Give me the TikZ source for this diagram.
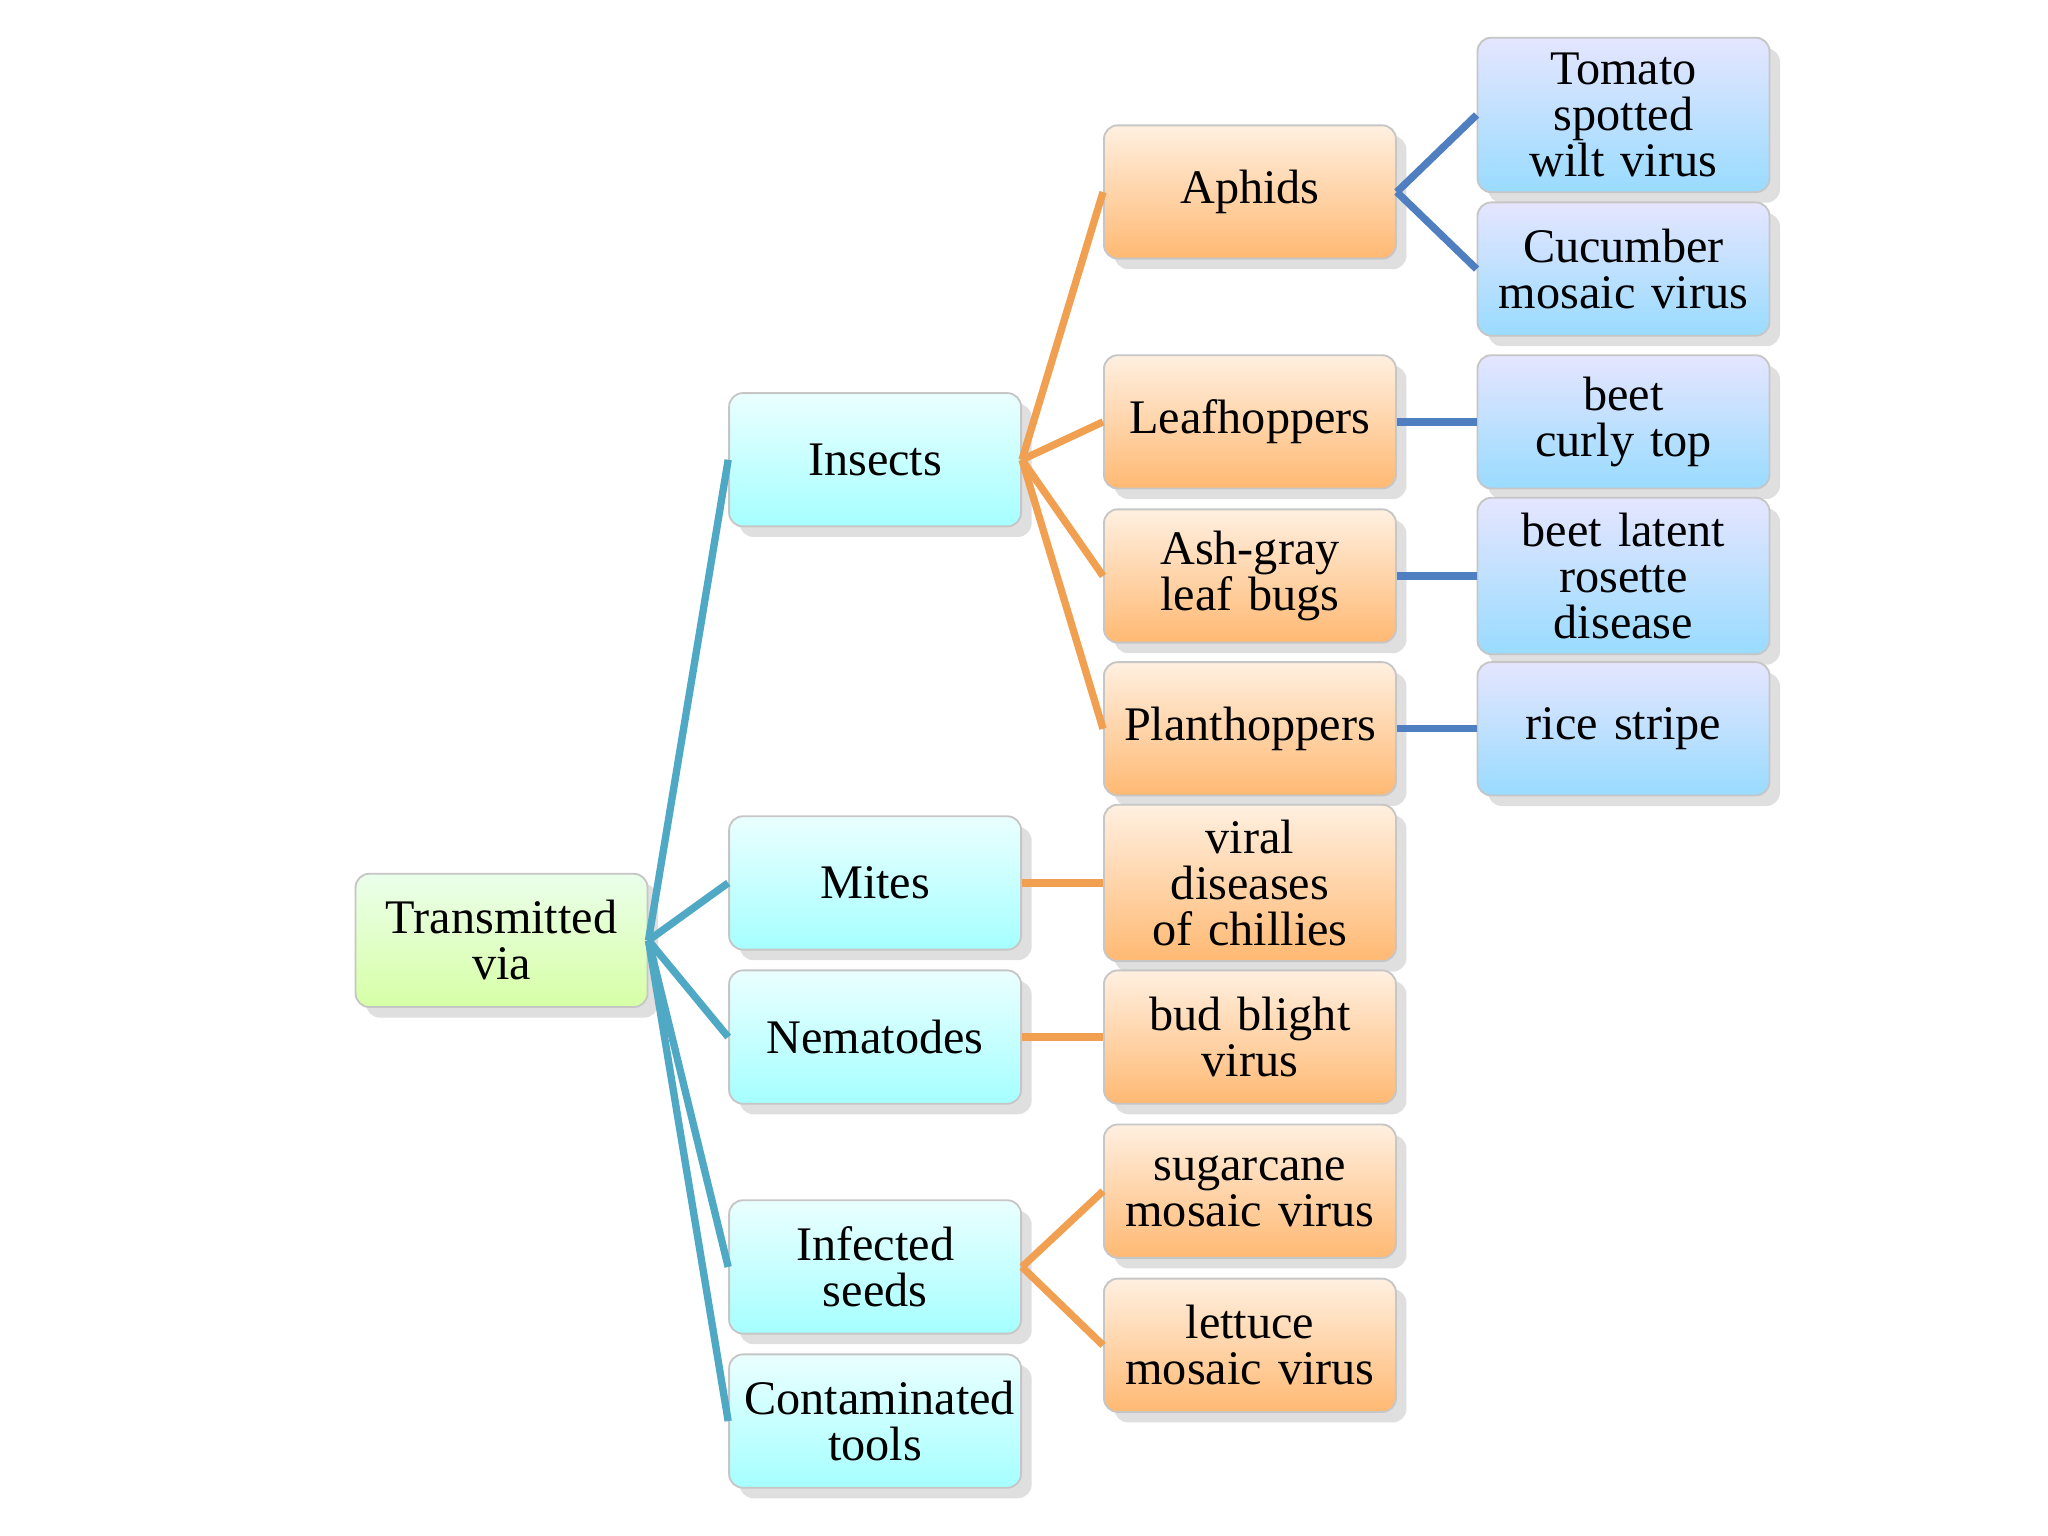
\documentclass[tikz,border=0pt]{standalone}
\usepackage{fontspec}
\setmainfont{Liberation Serif}
\usetikzlibrary{shadows}
\definecolor{tealline}{HTML}{4FA8C4}
\definecolor{orangeline}{HTML}{F0A050}
\definecolor{blueline}{HTML}{4F7FC0}
\tikzset{
  box/.style = {draw=gray!45, rounded corners=3pt, minimum width=2.05cm, minimum height=1.02cm,
    text width=2cm, align=center, font=\fontsize{10.5}{10}\selectfont, drop shadow={opacity=.25}},
  root/.style = {box, top color=green!8!white, bottom color=green!45!yellow!35},
  cat/.style = {box, top color=cyan!8!white, bottom color=cyan!35},
  sub/.style = {box, top color=orange!12!white, bottom color=orange!55},
  leaf/.style = {box, top color=blue!10!white, bottom color=blue!35!cyan!40},
  tl/.style = {tealline, line width=1.6pt},
  ol/.style = {orangeline, line width=1.6pt},
  bl/.style = {blueline, line width=1.6pt}
}
\begin{document}
\begin{tikzpicture}[x=0.01cm, y=-0.01cm]
\useasboundingbox (0,0) rectangle (1568,1176);
\fill[white] (0,0) rectangle (1568,1176);
\node[root] (tv) at (384,720) {Transmitted via};
\node[cat] (ins) at (670,352) {Insects};
\node[cat] (mit) at (670,676) {Mites};
\node[cat] (nem) at (670,794) {Nematodes};
\node[cat] (sds) at (670,970) {Infected seeds};
\node[cat] (tls) at (670,1088) {Contaminated tools};
\node[sub] (aph) at (957,147) {Aphids};
\node[sub] (lfh) at (957,323) {Leafhoppers};
\node[sub] (ash) at (957,441) {Ash-gray leaf bugs};
\node[sub] (plh) at (957,558) {Planthoppers};
\node[sub] (vdc) at (957,676) {viral diseases of chillies};
\node[sub] (bbv) at (957,794) {bud blight virus};
\node[sub] (smv) at (957,912) {sugarcane mosaic virus};
\node[sub] (lmv) at (957,1030) {lettuce mosaic virus};
\node[leaf] (tsw) at (1243,88) {Tomato spotted wilt virus};
\node[leaf] (cmv) at (1243,206) {Cucumber mosaic virus};
\node[leaf] (bct) at (1243,323) {beet curly top};
\node[leaf] (blr) at (1243,441) {beet latent rosette disease};
\node[leaf] (rst) at (1243,558) {rice stripe};
% first level
\foreach \c in {ins,mit,nem,sds,tls}
  \draw[tl] (tv.east) -- (\c.west);
% insects
\foreach \c in {aph,lfh,ash,plh}
  \draw[ol] (ins.east) -- (\c.west);
\draw[ol] (mit.east) -- (vdc.west);
\draw[ol] (nem.east) -- (bbv.west);
\draw[ol] (sds.east) -- (smv.west);
\draw[ol] (sds.east) -- (lmv.west);
% viruses
\draw[bl] (aph.east) -- (tsw.west);
\draw[bl] (aph.east) -- (cmv.west);
\draw[bl] (lfh.east) -- (bct.west);
\draw[bl] (ash.east) -- (blr.west);
\draw[bl] (plh.east) -- (rst.west);
\end{tikzpicture}
\end{document}
